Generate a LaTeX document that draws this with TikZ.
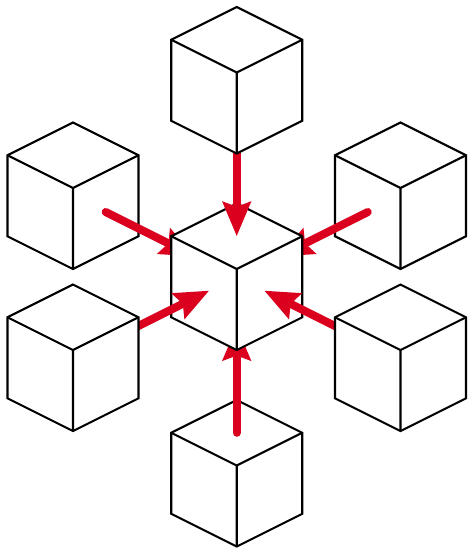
\documentclass[tikz,border=0pt]{standalone}
\usetikzlibrary{arrows.meta}

\definecolor{arrowred}{RGB}{218,0,30}
\newcommand{\edgeh}{1.237}
% isometric cube, given by its front vertex
\newcommand{\isocube}[1]{%
  \filldraw[cubeline,fill=white] (#1) ++(0,1) -- ++(1,-0.5) -- ++(0,-\edgeh) -- ++(-1,-0.5) -- ++(-1,0.5) -- ++(0,\edgeh) -- cycle;
  \draw[cubeline] (#1) -- ++(-1,0.5) (#1) -- ++(1,0.5) (#1) -- ++(0,-\edgeh);
}

\begin{document}
\begin{tikzpicture}[cubeline/.style={line width=0.9pt,black,line join=miter},
  push/.style={arrowred,line width=3.5pt,line cap=round,
    -{Stealth[length=0.52cm,width=0.42cm,inset=0.07cm]}}]
\useasboundingbox (-3.614,-4.366) rectangle (3.623,4.107);

\coordinate (mid) at (0,0);
\coordinate (top) at (0,3);
\coordinate (bot) at (0,-3);
\coordinate (ul) at (-2.5,\edgeh);
\coordinate (ur) at (2.5,\edgeh);
\coordinate (ll) at (-2.5,-\edgeh);
\coordinate (lr) at (2.5,-\edgeh);

% arrow ends
\coordinate (ul-s) at (-2,0.87);   \coordinate (ul-t) at (-0.64,0.19);
\coordinate (ur-s) at (2,0.87);    \coordinate (ur-t) at (0.64,0.19);
\coordinate (bot-s) at (0,-2.5);   \coordinate (bot-t) at (0,-0.87);
\coordinate (top-s) at (0,3);      \coordinate (top-t) at (0,0.5);
\coordinate (ll-s) at (-1.9,-1.07); \coordinate (ll-t) at (-0.42,-0.33);
\coordinate (lr-s) at (1.9,-1.07);  \coordinate (lr-t) at (0.42,-0.33);

% back cubes and the arrows hidden behind the middle one
\isocube{ul}
\isocube{ur}
\isocube{bot}
\draw[push] (ul-s) -- (ul-t);
\draw[push] (ur-s) -- (ur-t);
\draw[push] (bot-s) -- (bot-t);

\isocube{mid}

% front arrows, coming out from behind their cubes
\draw[push] (top-s) -- (top-t);
\draw[push] (ll-s) -- (ll-t);
\draw[push] (lr-s) -- (lr-t);
\isocube{top}
\isocube{ll}
\isocube{lr}

\end{tikzpicture}
\end{document}
